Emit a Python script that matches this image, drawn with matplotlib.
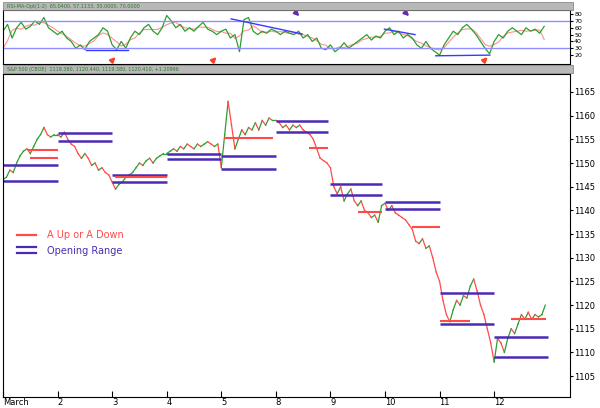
import matplotlib
matplotlib.use("Agg")
import matplotlib.pyplot as plt
import numpy as np
from matplotlib.patches import Rectangle

day_labels = ["March", "2", "3", "4", "5", "8", "9", "10", "11", "12"]
price_days = [
    [1146.5,1147,1148.5,1148,1150,1151.5,1152.5,1153,1152,1153.5,1155,1156,1157.5,1156,1155.5,1156],
    [1156,1155.5,1156.5,1155,1154,1153.5,1152,1151,1152,1151,1149.5,1150,1148.5,1149,1148,1147.5],
    [1146,1144.5,1145.5,1146,1147,1147.5,1148,1149,1150,1149.5,1150.5,1151,1150,1151,1151.5,1152],
    [1152,1152.5,1153,1152.5,1153.5,1153,1154,1153.5,1153,1154,1153.5,1154,1154.5,1154,1153.5,1154],
    [1149,1156,1163,1158,1153,1155,1157,1156,1157.5,1157,1158.5,1157,1159,1158,1159.5,1159],
    [1159,1158.5,1157.5,1158,1157,1158,1157.5,1158,1157,1156.5,1156,1155,1153,1151,1150.5,1150],
    [1149,1145,1143.5,1145,1142,1143.5,1144.5,1142,1141,1142,1140,1139.5,1138.5,1139,1137.5,1141],
    [1141.5,1140,1141,1139.5,1139,1138.5,1138,1137,1136,1133.5,1133,1134,1132,1132.5,1130,1127],
    [1125,1121,1118,1116.5,1119,1121,1120,1122,1121.5,1124,1125.5,1123,1120,1118,1115,1112],
    [1108,1113,1112,1110,1113,1115,1114,1116,1118,1117,1118.5,1117,1118,1117.5,1118,1120],
]
rsi_days = [
    [55,65,45,60,68,58,62,70,65,75,60,55],
    [50,55,45,40,30,35,28,40,45,50,60,55],
    [35,28,40,30,45,55,50,60,65,55,50,60],
    [78,70,60,65,55,60,55,62,68,58,55,50],
    [55,58,45,50,25,72,75,55,50,55,52,58],
    [55,50,55,52,50,55,45,50,40,45,30,28],
    [35,25,30,38,30,35,40,45,50,42,48,45],
    [55,60,50,55,45,50,45,35,30,40,30,25],
    [20,35,45,55,50,60,65,58,50,40,30,22],
    [40,50,45,55,60,55,50,60,55,58,52,62],
]
or_lines = [(0,1,1149.5),(0,1,1146.3),(1,2,1156.3),(1,2,1154.6),(2,3,1147.4),(2,3,1145.9),
            (3,4,1152.0),(3,4,1150.8),(4,5,1151.4),(4,5,1148.8),(5,5.95,1158.8),(5,5.95,1156.6),
            (6,6.95,1145.6),(6,6.95,1143.3),(7,8,1141.8),(7,8,1140.2),(8,9,1122.5),(8,9,1116.0),
            (9,9.98,1113.3),(9,9.98,1109.0)]
a_lines = [(0.45,1,1152.8),(0.5,1,1151.0),(2.05,3,1147.0),(4.05,4.95,1155.2),(5.6,5.95,1153.2),
           (6.5,6.95,1139.6),(7.5,8,1136.4),(8,8.55,1116.6),(9.3,9.95,1117.0)]

W, H = 600, 408
fig = plt.figure(figsize=(6, 4.08), dpi=100)
fig.patch.set_facecolor("white")
def ax_rect(x0, y0, x1, y1):
    return [x0/W, 1-y1/H, (x1-x0)/W, (y1-y0)/H]

GREEN, RED, PURP = "#2e9e2e", "#ff4a4a", "#4b2bb5"

for y0 in (2, 65):
    fig.add_artist(Rectangle((0.005, 1-(y0+8)/H), 0.95, 8/H, transform=fig.transFigure,
                             facecolor="#b8b8b8", edgecolor="#777777", lw=0.5))
fig.text(0.012, 1-6.5/H, "RSI-MA-Opt(1-2)  65.0400, 57.1133, 30.0000, 70.0000", fontsize=3.5, va="center", color="#2a7a2a")
fig.text(0.012, 1-69.5/H, "S&P 500 (CBOE)  1119.380, 1120.440, 1119.380, 1120.410, +1.20996", fontsize=3.5, va="center", color="#2a7a2a")

axr = fig.add_axes(ax_rect(3, 10, 570, 64))
rsi = np.concatenate([np.array(d, float) for d in rsi_days])
xr = np.concatenate([i + np.arange(len(d))/len(d) for i, d in enumerate(rsi_days)])
ma = np.convolve(rsi, np.ones(4)/4, mode="same")
axr.plot(xr, ma, color="#ff9090", lw=0.8)
axr.plot(xr, rsi, color=GREEN, lw=0.9)
axr.axhline(70, color="#8f8fff", lw=1)
axr.axhline(30, color="#8f8fff", lw=1)
for (x0, y0, x1, y1) in [(1.52,27,2.29,27),(4.18,73,5.48,51),(6.99,58,7.55,50),(7.93,19,8.92,20)]:
    axr.plot([x0, x1], [y0, y1], color="#3a3aff", lw=1)
for xa in (2.05, 3.9, 8.87):
    axr.annotate("", xy=(xa+0.05, 20), xytext=(xa-0.1, 8),
                 arrowprops=dict(arrowstyle="-|>", color="#ff4020", lw=1.5, mutation_scale=7))
for xa in (5.35, 7.36):
    axr.annotate("", xy=(xa+0.12, 74), xytext=(xa-0.02, 85),
                 arrowprops=dict(arrowstyle="-|>", color="#6a2ab0", lw=1.5, mutation_scale=7))
axr.set_xlim(0, 10.39)
axr.set_ylim(7, 86)
axr.yaxis.tick_right()
axr.set_yticks([20,30,40,50,60,70,80])
axr.tick_params(axis="y", labelsize=4.5, length=2, pad=1)
axr.set_xticks([])

axp = fig.add_axes(ax_rect(3, 74, 570, 397))
xp = np.concatenate([i + np.arange(len(d))/len(d) for i, d in enumerate(price_days)])
p = np.concatenate([np.array(d, float) for d in price_days])
for i in range(len(p)-1):
    axp.plot(xp[i:i+2], p[i:i+2], color=GREEN if p[i+1] >= p[i] else RED, lw=0.9)
for (x0, x1, y) in or_lines:
    axp.plot([x0, x1], [y, y], color=PURP, lw=1.8, solid_capstyle="butt")
for (x0, x1, y) in a_lines:
    axp.plot([x0, x1], [y, y], color=RED, lw=1.5, solid_capstyle="butt")
axp.set_xlim(0, 10.39)
axp.set_ylim(1100.6, 1168.8)
axp.yaxis.tick_right()
axp.set_yticks(np.arange(1105, 1166, 5))
axp.tick_params(axis="y", labelsize=6, length=2, pad=1)
axp.set_xticks(range(10))
axp.set_xticklabels(day_labels, ha="left", fontsize=6)
axp.tick_params(axis="x", direction="in", length=4, pad=1)
axp.plot([0.25, 0.6], [1134.8, 1134.8], color=RED, lw=1.6)
axp.text(0.8, 1134.8, "A Up or A Down", color=RED, fontsize=7, va="center")
axp.plot([0.25, 0.6], [1132.2, 1132.2], color=PURP, lw=1.6)
axp.plot([0.25, 0.6], [1130.9, 1130.9], color=PURP, lw=1.6)
axp.text(0.8, 1131.5, "Opening Range", color=PURP, fontsize=7, va="center")

fig.savefig("out.png", dpi=100)
